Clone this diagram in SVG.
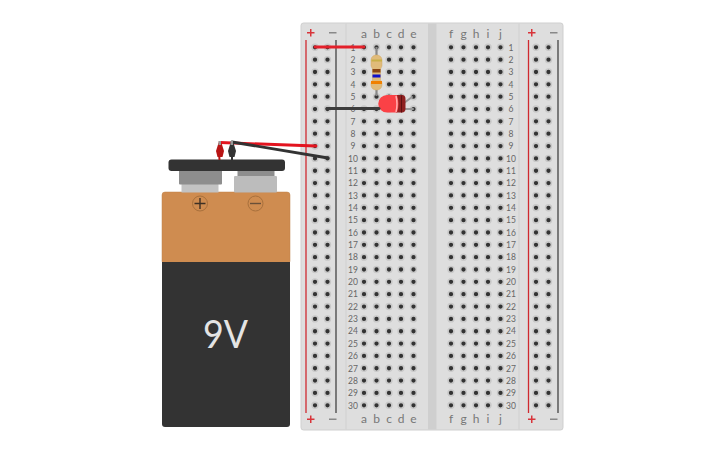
<svg xmlns="http://www.w3.org/2000/svg" width="725" height="453" viewBox="0 0 725 453">
<style>
text{font-family:Lato,"Open Sans","DejaVu Sans",sans-serif}
.n{font-size:8.500px;fill:#666;text-anchor:middle}
.l{font-size:12px;fill:#777;text-anchor:middle}
.w{fill:none;stroke-linecap:round}
.halo{fill:none;stroke:#c8c8c8;stroke-width:7.400;stroke-linecap:round;stroke-dasharray:0 12.345}
.dot{fill:none;stroke:#333;stroke-width:4.300;stroke-linecap:round;stroke-dasharray:0 12.345}
</style>
<rect width="725" height="453" fill="#fff"/>
<g id="breadboard">
<rect x="301" y="23" width="262" height="407" rx="2.5" fill="#dedede" stroke="#cfcfcf"/>
<rect x="428" y="23.500" width="8.500" height="406" fill="#cfcfcf"/>
<path d="M346 23.500V429.500M519 23.500V429.500" stroke="#d0d0d0"/>
<path class="halo" d="M315 47.300V405.700M327.500 47.300V405.700M364 47.300V405.700M376.500 47.300V405.700M389 47.300V405.700M401 47.300V405.700M413.500 47.300V405.700M451 47.300V405.700M463.500 47.300V405.700M476 47.300V405.700M488 47.300V405.700M500.500 47.300V405.700M536 47.300V405.700M548.500 47.300V405.700"/>
<path class="dot" d="M315 47.300V405.700M327.500 47.300V405.700M364 47.300V405.700M376.500 47.300V405.700M389 47.300V405.700M401 47.300V405.700M413.500 47.300V405.700M451 47.300V405.700M463.500 47.300V405.700M476 47.300V405.700M488 47.300V405.700M500.500 47.300V405.700M536 47.300V405.700M548.500 47.300V405.700"/>
<path d="M306 40V413M528.500 40V413" stroke="#cf2a30" stroke-width="1.300"/>
<path d="M336 40V413M558 40V413" stroke="#444" stroke-width="1.300"/>
<g fill="#d8343a"><path d="M307 32h7.500v1.500h-7.500zM310 29h1.500v7.500h-1.500zM307 418.500h7.500v1.500h-7.500zM310 415.500h1.500v7.500h-1.500zM528 32h7.500v1.500h-7.500zM531 29h1.500v7.500h-1.500zM528 418.500h7.500v1.500h-7.500zM531 415.500h1.500v7.500h-1.500z"/></g>
<g fill="#888"><path d="M329 32h7.500v1.500h-7.500zM329 418.500h7.500v1.500h-7.500zM550 32h7.500v1.500h-7.500zM550 418.500h7.500v1.500h-7.500z"/></g>
<g>
<text class="l" x="364" y="37.500">a</text><text class="l" x="376.500" y="37.500">b</text><text class="l" x="389" y="37.500">c</text><text class="l" x="401" y="37.500">d</text><text class="l" x="413.500" y="37.500">e</text>
<text class="l" x="451" y="37.500">f</text><text class="l" x="463.500" y="37.500">g</text><text class="l" x="476" y="37.500">h</text><text class="l" x="488" y="37.500">i</text><text class="l" x="500.500" y="37.500">j</text>
<text class="l" x="364" y="422.500">a</text><text class="l" x="376.500" y="422.500">b</text><text class="l" x="389" y="422.500">c</text><text class="l" x="401" y="422.500">d</text><text class="l" x="413.500" y="422.500">e</text>
<text class="l" x="451" y="422.500">f</text><text class="l" x="463.500" y="422.500">g</text><text class="l" x="476" y="422.500">h</text><text class="l" x="488" y="422.500">i</text><text class="l" x="500.500" y="422.500">j</text>
</g>
<g transform="translate(0 .5)">
<text class="n" x="353" y="50">1</text><text class="n" x="353" y="62.300">2</text><text class="n" x="353" y="74.700">3</text><text class="n" x="353" y="87">4</text><text class="n" x="353" y="99.400">5</text><text class="n" x="353" y="111.700">6</text><text class="n" x="353" y="124">7</text><text class="n" x="353" y="136.400">8</text><text class="n" x="353" y="148.800">9</text><text class="n" x="353" y="161.100">10</text><text class="n" x="353" y="173.500">11</text><text class="n" x="353" y="185.800">12</text><text class="n" x="353" y="198.100">13</text><text class="n" x="353" y="210.500">14</text><text class="n" x="353" y="222.800">15</text><text class="n" x="353" y="235.200">16</text><text class="n" x="353" y="247.500">17</text><text class="n" x="353" y="259.900">18</text><text class="n" x="353" y="272.200">19</text><text class="n" x="353" y="284.600">20</text><text class="n" x="353" y="296.900">21</text><text class="n" x="353" y="309.200">22</text><text class="n" x="353" y="321.600">23</text><text class="n" x="353" y="333.900">24</text><text class="n" x="353" y="346.300">25</text><text class="n" x="353" y="358.600">26</text><text class="n" x="353" y="371">27</text><text class="n" x="353" y="383.300">28</text><text class="n" x="353" y="395.700">29</text><text class="n" x="353" y="408">30</text>
<text class="n" x="511" y="50">1</text><text class="n" x="511" y="62.300">2</text><text class="n" x="511" y="74.700">3</text><text class="n" x="511" y="87">4</text><text class="n" x="511" y="99.400">5</text><text class="n" x="511" y="111.700">6</text><text class="n" x="511" y="124">7</text><text class="n" x="511" y="136.400">8</text><text class="n" x="511" y="148.800">9</text><text class="n" x="511" y="161.100">10</text><text class="n" x="511" y="173.500">11</text><text class="n" x="511" y="185.800">12</text><text class="n" x="511" y="198.100">13</text><text class="n" x="511" y="210.500">14</text><text class="n" x="511" y="222.800">15</text><text class="n" x="511" y="235.200">16</text><text class="n" x="511" y="247.500">17</text><text class="n" x="511" y="259.900">18</text><text class="n" x="511" y="272.200">19</text><text class="n" x="511" y="284.600">20</text><text class="n" x="511" y="296.900">21</text><text class="n" x="511" y="309.200">22</text><text class="n" x="511" y="321.600">23</text><text class="n" x="511" y="333.900">24</text><text class="n" x="511" y="346.300">25</text><text class="n" x="511" y="358.600">26</text><text class="n" x="511" y="371">27</text><text class="n" x="511" y="383.300">28</text><text class="n" x="511" y="395.700">29</text><text class="n" x="511" y="408">30</text>
</g>
</g>
<g id="battery">
<rect x="162" y="192" width="128" height="72" rx="3" fill="#cf8c50" stroke="#bd8048" stroke-width="0.500"/>
<path d="M162 262H290V424a3 3 0 0 1-3 3H165a3 3 0 0 1-3-3z" fill="#333"/>
<rect x="181.500" y="184" width="37" height="8.500" fill="#c3c3c3"/>
<rect x="179" y="170" width="43" height="14.500" rx="1" fill="#8e8e8e"/>
<rect x="237.500" y="170" width="37" height="7" fill="#8e8e8e"/>
<rect x="234" y="176" width="43" height="16.500" rx="1" fill="#bcbcbc"/>
<rect x="168.500" y="159.500" width="116.500" height="11.500" rx="3" fill="#333"/>
<circle cx="200" cy="203.500" r="7.500" fill="none" stroke="#a8703c"/>
<circle cx="255.500" cy="203.500" r="7.500" fill="none" stroke="#a8703c"/>
<path d="M194.500 203.500h11M200 198v11" stroke="#3e3024" stroke-width="1.400"/>
<path d="M250 203.500h11" stroke="#6a5038" stroke-width="1.400"/>
<text x="225.500" y="347.500" font-size="39" fill="#e4e4e4" text-anchor="middle" textLength="45" lengthAdjust="spacingAndGlyphs">9V</text>
</g>
<g id="resistor">
<path d="M376.500 47V96" stroke="#888" stroke-width="2.200"/>
<path d="M376.500 55c-3 0-5.500 2-5.500 5v6l1.500 3v11l-1.500 3v2c0 3 2.500 5 5.500 5s5.500-2 5.500-5v-2l-1.500-3v-11l1.500-3v-6c0-3-2.500-5-5.500-5z" fill="#e0bb7a" stroke="#d0a868" stroke-width="0.500"/>
<rect x="371.500" y="59.500" width="10.500" height="2" fill="#c8b048"/>
<rect x="372.500" y="69" width="8" height="3.500" fill="#8b4513"/>
<rect x="372.500" y="74.500" width="8" height="3" fill="#1111cc"/>
<rect x="371" y="81" width="11" height="3" fill="#f08000"/>
</g>
<g id="led">
<path d="M404 103L412 97" stroke="#999" stroke-width="2" class="w"/>
<path d="M404 109H413" stroke="#999" stroke-width="2" class="w"/>
<path d="M396 95h6q3.500 0 3.500 4v9.500q0 4-3.500 4h-6z" fill="#8e2020"/>
<path d="M401.500 95.500v17" stroke="#5e1010"/>
<path d="M387 95h10q1.500 4 1.500 8.750t-1.500 8.750h-10a8.750 8.750 0 0 1 0-17.500z" fill="#fb4146"/>
<path d="M396 96q2 8 0 16" stroke="#ffb0b0" stroke-width="1.500" fill="none"/>
</g>
<g id="connectors">
<path class="w" d="M315 47H364" stroke="#e3202a" stroke-width="2.800"/>
<path class="w" d="M327 108.500H379" stroke="#3d3d3d" stroke-width="3"/>
<path class="w" d="M220 142.500L316 146" stroke="#e3141f" stroke-width="2.800"/>
<path class="w" d="M232 142L328 158" stroke="#333" stroke-width="2.800"/>
<path d="M232 160V153" stroke-width="2" fill="none" stroke="#333"/>
<path d="M219.500 160l-.5-8" stroke="#b81414" stroke-width="2" fill="none"/>
<path d="M218.500 143h3l2.500 8-1.500 6h-5l-1.500-6z" fill="#b81414"/>
<path d="M230.500 143h3l2.500 8-1.500 6h-5l-1.500-6z" fill="#333"/>
<path d="M218.500 141h2.500v4h-2.500zM230.500 141h2.500v4h-2.500z" fill="#999"/>
</g>
</svg>
